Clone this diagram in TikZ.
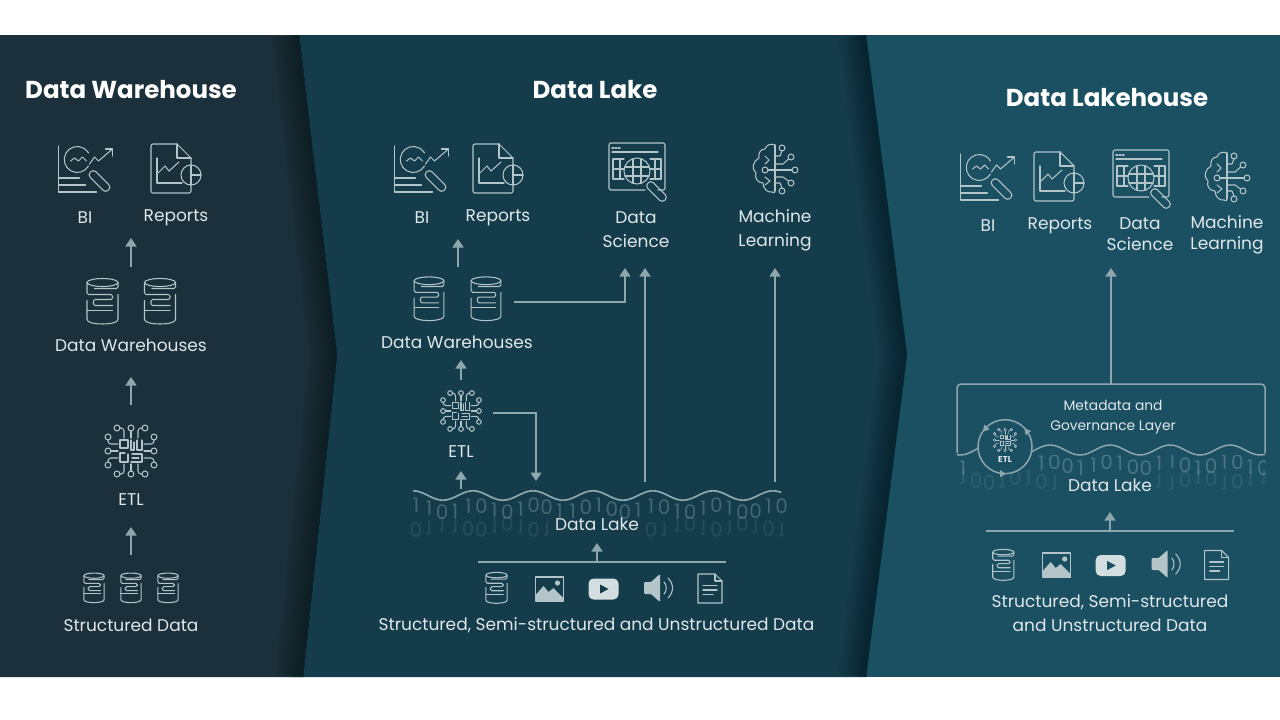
\documentclass[tikz,border=0pt]{standalone}
\usepackage{fontspec}
\usepackage{graphicx}
\setmainfont{Poppins}
\usetikzlibrary{arrows.meta}
\definecolor{leftc}{HTML}{1B303A}
\definecolor{midc}{HTML}{153C4A}
\definecolor{rightc}{HTML}{1B5062}
\definecolor{iconc}{HTML}{B4C5CA}
\definecolor{ytc}{HTML}{D3DEE1}
\definecolor{arrowc}{HTML}{8DA7AD}
\definecolor{labelc}{HTML}{DFE7EA}
\definecolor{digitc}{HTML}{A9C3CB}
\colorlet{panelc}{midc}
\def\iconlw{1.05pt}
\newcommand\lbl{\fontsize{17}{21}\selectfont}
\newcommand\ttl{\fontsize{24.5}{29}\selectfont\bfseries}
\newcommand\binrow[8]{% name,x0,dx,ybase,amp,crest,opacity,list
  \foreach \c [count=\i] in {#8} {
    \pgfmathsetmacro\bx{#2+#3*(\i-1)}
    \pgfmathsetmacro\by{#4-#5*cos(6*(\bx-#6))}
    \node[digit,opacity=#7] (#1\i) at (\bx,\by) {\c};
  }
}
\newcommand\binrowflip[8]{%
  \foreach \c [count=\i] in {#8} {
    \pgfmathsetmacro\bx{#2+#3*(\i-1)}
    \pgfmathsetmacro\by{#4+#5*cos(6*(\bx-#6))}
    \node[digit,opacity=#7] (#1\i) at (\bx,\by) {\scalebox{1}[-1]{\c}};
  }
}
\tikzset{
  icon/.style={draw=iconc,line width=\iconlw,line cap=round,line join=round},
  arr/.style={draw=arrowc,line width=1.7pt,-{Triangle[length=8.5pt,width=11pt]}},
  plain/.style={draw=arrowc,line width=1.7pt},
  lab/.style={text=labelc,font=\lbl,inner sep=0pt,align=center},
  title/.style={text=white,font=\ttl,inner sep=0pt},
  digit/.style={text=digitc,inner sep=0pt,font=\fontsize{20}{20}\selectfont},
  biicon/.pic={
    \draw[icon] (-27,-23)--(-27,23)--(11,23);
    \draw[icon] (-27,9)--(-6,9);
    \draw[icon] (-27,16)--(0,16);
    \draw[icon] (3,-3) arc (30:330:13);
    \draw[icon] (-15,-8)--(-11,-11)--(-7,-8)--(-3,-12)--(1,-8);
    \draw[icon] (4,-5)--(9,-12)--(13,-8)--(27,-20);
    \draw[icon] (20,-20)--(27,-20)--(27,-13);
    \draw[icon,rounded corners=3.5pt] (7.8,.2)--(25.8,18.2)--(20.2,23.8)--(2.2,5.8)--cycle;
  },
  repicon/.pic={
    \draw[icon,rounded corners=2pt] (1,-25)--(-25,-25)--(-25,24)--(15,24)--(15,16);
    \draw[icon] (1,-25)--(15,-11)--(15,-4);
    \draw[icon] (1,-25)--(1,-11)--(15,-11);
    \draw[icon] (-19,-11)--(-19,14)--(6,14);
    \draw[icon] (-18,4)--(-11,-3)--(-7,2)--(3,-7);
    \draw[icon] (15,6) circle (10);
    \draw[icon] (15,-4)--(15,6)--(25,6);
    \draw[icon] (15,6)--(15,16);
  },
  dsicon/.pic={
    \draw[icon,rounded corners=2pt] (8,20)--(-28,20)--(-28,-27)--(28,-27)--(28,20)--(21,20);
    \draw[icon] (-25,-18)--(21,-18);
    \draw[icon,line width=1.4pt,dash pattern=on 1.6pt off 1.6pt] (-25,-22)--(-17,-22);
    \foreach \yy in {-11,-1,9} {
      \draw[icon] (-24,\yy)--(-13,\yy);
      \draw[icon] (13,\yy)--(24,\yy);
    }
    \draw[icon] (-24,-11)--(-24,9);
    \draw[icon] (-17,-11)--(-17,9);
    \draw[icon] (24,-11)--(24,9);
    \draw[icon] (18,-11)--(18,9);
    \draw[icon] (0,1) circle (13);
    \draw[icon] (-4,-11)--(-4,13);
    \draw[icon] (4,-11)--(4,13);
    \draw[icon] (-12,-3)--(12,-3);
    \draw[icon] (-12,6)--(12,6);
    \draw[icon,rounded corners=3.5pt] (13.8,10.2)--(30.8,27.2)--(25.2,32.8)--(8.2,15.8)--cycle;
  },
  brainicon/.pic={
    \draw[icon] (0,-24) .. controls (-4,-26) and (-9,-24) .. (-10,-20)
      .. controls (-15,-20) and (-17,-15) .. (-16,-11)
      .. controls (-22,-8) and (-24,0) .. (-19,4)
      .. controls (-21,9) and (-17,14) .. (-12,14)
      .. controls (-12,20) and (-7,24) .. (-3,23)
      .. controls (-1,24) and (0,24) .. (0,22);
    \draw[icon] (0,-24)--(0,22);
    \draw[icon] (-10,-13)--(-6,-9)--(-10,-5);
    \draw[icon] (-10,1) circle (3);
    \draw[icon] (-7,1)--(17,1);
    \draw[icon] (20,1) circle (3);
    \draw[icon] (-10,8)--(-5,12)--(-10,16);
    \draw[icon] (0,-13)--(5,-13)--(7,-18);
    \draw[icon] (7,-21) circle (3);
    \draw[icon] (0,-5)--(8,-5)--(13.5,-10);
    \draw[icon] (16,-12) circle (3);
    \draw[icon] (0,8)--(8,8)--(13.5,12);
    \draw[icon] (16,14) circle (3);
    \draw[icon] (0,14)--(5,14)--(7,19);
    \draw[icon] (7,22) circle (3);
  },
  dbicon/.pic={
    \draw[icon] (0,-19) ellipse [x radius=15.5,y radius=4];
    \draw[icon,rounded corners=1.5pt] (15.5,-19)--(15.5,-13)--(-8,-13);
    \draw[icon,rounded corners=1.5pt] (-15.5,-19)--(-15.5,-7)--(10,-7)--(10,-2)--(-9,-2)--(-9,4)--(10,4);
    \draw[icon] (15.5,-7)--(15.5,18) .. controls (15.5,24) and (-15.5,24) .. (-15.5,18)--(-15.5,-1);
    \draw[icon] (-15.5,9)--(10,9);
  },
  chipicon/.pic={
    \foreach \r in {0,90,180,270} {
      \begin{scope}[rotate=\r]
        \draw[icon] (0,-23) circle (3);
        \draw[icon] (0,-20)--(0,-13);
        \draw[icon] (-14,-23) circle (3);
        \draw[icon,rounded corners=3pt] (-11,-23)--(-7,-23)--(-7,-13);
        \draw[icon] (14,-23) circle (3);
        \draw[icon,rounded corners=3pt] (11,-23)--(7,-23)--(7,-13);
      \end{scope}
    }
    \draw[icon] (-11,-11) rectangle (-3,-3);
    \draw[icon] (0,-11)--(0,-1)--(3,-1)--(3,-9);
    \draw[icon] (6,-11)--(6,-1)--(11,-1)--(11,-11);
    \draw[icon] (-11,2)--(-11,11)--(-3,11)--(-3,3);
    \draw[icon] (-11,2)--(-6,2);
    \draw[icon] (1,3)--(11,3)--(11,11)--(0,11);
    \draw[icon] (1,7)--(8,7);
  },
  imgicon/.pic={
    \draw[icon,draw=iconc] (-14,-12) rectangle (14,12);
    \fill[iconc] (-14,12)--(-14,6)--(-6,-3)--(-1,3)--(4,-1)--(14,9)--(14,12)--cycle;
    \fill[iconc] (8,-6) circle (2.6);
  },
  yticon/.pic={
    \fill[ytc,rounded corners=5pt] (-15,-10.5) rectangle (15,10.5);
    \fill[panelc] (-3.5,-4.5)--(5,0)--(-3.5,4.5)--cycle;
  },
  spkicon/.pic={
    \fill[iconc,rounded corners=1pt] (-15,-6)--(-8,-6)--(1,-14)--(1,14)--(-8,6)--(-15,6)--cycle;
    \draw[icon] (5,-6) .. controls (8,-3) and (8,3) .. (5,6);
    \draw[icon] (9,-10) .. controls (15,-4) and (15,4) .. (9,10);
  },
  docicon/.pic={
    \draw[icon] (5,-14.5)--(-12,-14.5)--(-12,14.5)--(12,14.5)--(12,-7.5)--cycle;
    \draw[icon] (5,-14.5)--(5,-7.5)--(12,-7.5);
    \draw[icon] (-7,-3)--(7,-3);
    \draw[icon] (-7,1.5)--(7,1.5);
    \draw[icon] (-7,6)--(3,6);
  },
}
\begin{document}
\begin{tikzpicture}[x=1pt,y=-1pt]
\useasboundingbox (0,0) rectangle (1280,720);
\fill[white] (0,0) rectangle (1280,720);
% panels
\fill[rightc] (860,35) rectangle (1280,677);
\fill[midc] (290,35)--(866,35)--(907,355)--(866,677)--(290,677)--cycle;
\begin{scope}
  \clip (290,35)--(866,35)--(907,355)--(866,677)--(290,677)--cycle;
  \foreach \w in {4,8,...,56} {
    \draw[black,opacity=.022,line width=\w pt] (866,35)--(907,355)--(866,677);
  }
\end{scope}
\fill[leftc] (0,35)--(299,35)--(337,355)--(303,677)--(0,677)--cycle;
\begin{scope}
  \clip (0,35)--(299,35)--(337,355)--(303,677)--(0,677)--cycle;
  \foreach \w in {4,8,...,56} {
    \draw[black,opacity=.022,line width=\w pt] (299,35)--(337,355)--(303,677);
  }
\end{scope}

% ---------- Data Warehouse ----------
\node[title] (wt) at (131,90) {Data Warehouse};
\pic (wbi) at (85.5,169) {biicon};
\pic (wrep) at (176,169) {repicon};
\node[lab] (wbil) at (85,218) {BI};
\node[lab] (wrepl) at (176,218) {Reports};
\pic (wdb1) at (102.5,301.5) {dbicon};
\pic (wdb2) at (160,301.5) {dbicon};
\node[lab] (wdwl) at (131,345) {Data Warehouses};
\pic (wetl) at (131,451) {chipicon};
\node[lab] (wetll) at (131,500) {ETL};
\pic[scale=.65] (wsd1) at (94,588) {dbicon};
\pic[scale=.65] (wsd2) at (131,588) {dbicon};
\pic[scale=.65] (wsd3) at (168,588) {dbicon};
\node[lab] (wsdl) at (131,625) {Structured Data};
\coordinate (wa1) at (131,267); \coordinate (wa2) at (131,238);
\coordinate (wb1) at (131,405); \coordinate (wb2) at (131,377);
\coordinate (wc1) at (131,555); \coordinate (wc2) at (131,527);
\draw[arr] (wa1)--(wa2);
\draw[arr] (wb1)--(wb2);
\draw[arr] (wc1)--(wc2);

% ---------- Data Lake ----------
\colorlet{panelc}{midc}
\node[title] (lt) at (595,90) {Data Lake};
\pic (lbi) at (421.5,169) {biicon};
\pic (lrep) at (498,169) {repicon};
\pic (lds) at (637,170) {dsicon};
\pic (lml) at (775,169) {brainicon};
\node[lab] (lbil) at (422,218) {BI};
\node[lab] (lrepl) at (498,218) {Reports};
\node[lab] (ldsl) at (636,230) {Data\\[3pt]Science};
\node[lab] (lmll) at (775,230) {Machine\\[3pt]Learning};
\pic[scale=.96] (ldb1) at (429,299) {dbicon};
\pic[scale=.96] (ldb2) at (486,299) {dbicon};
\node[lab] (ldwl) at (457,342) {Data Warehouses};
\pic[scale=.78] (letl) at (461,411) {chipicon};
\node[lab] (letll) at (461,452) {ETL};
\binrow{lu}{416}{13.06}{509}{3.5}{416}{.32}{1,1,0,1,1,0,1,0,1,0,0,1,1,0,1,0,0,1,1,0,1,0,1,0,1,0,0,1,0}
\binrowflip{ld}{416}{13.06}{527}{3}{416}{.13}{0,1,1,1,0,0,1,0,1,0,1,,,,,,,,0,1,1,0,1,0,1,0,1,0,1}
\draw[line width=1.7pt,draw=arrowc] plot[domain=413:781,samples=120,smooth] (\x,{495.5-4.7*cos(6*(\x-413))});
\node[lab] (lll) at (597,524) {Data Lake};
\coordinate (lbar1) at (478,562); \coordinate (lbar2) at (726,562);
\draw[plain] (lbar1)--(lbar2);
\pic[scale=.68] (lsd) at (496.5,588) {dbicon};
\pic (limg) at (549.5,589) {imgicon};
\pic (lyt) at (603.5,589) {yticon};
\pic (lsp) at (659,588) {spkicon};
\pic (ldoc) at (710,588.5) {docicon};
\node[lab] (lsl) at (596.5,625) {Structured, Semi-structured and Unstructured Data};
\coordinate (la1) at (458,267); \coordinate (la2) at (458,239);
\coordinate (lb1) at (461,380); \coordinate (lb2) at (461,360);
\coordinate (lc1) at (461,489); \coordinate (lc2) at (461,471);
\coordinate (ld1) at (597,562); \coordinate (ld2) at (597,543);
\coordinate (le1) at (493,413); \coordinate (le2) at (536,413); \coordinate (le3) at (536,481);
\coordinate (lf1) at (514,302); \coordinate (lf2) at (625,302); \coordinate (lf3) at (625,268);
\coordinate (lg1) at (645,482); \coordinate (lg2) at (645,268);
\coordinate (lh1) at (775,482); \coordinate (lh2) at (775,268);
\draw[arr] (la1)--(la2);
\draw[arr] (lb1)--(lb2);
\draw[arr] (lc1)--(lc2);
\draw[arr] (ld1)--(ld2);
\draw[arr] (le1)--(le2)--(le3);
\draw[arr] (lf1)--(lf2)--(lf3);
\draw[arr] (lg1)--(lg2);
\draw[arr] (lh1)--(lh2);

% ---------- Data Lakehouse ----------
\colorlet{panelc}{rightc}
\node[title] (rt) at (1107,98) {Data Lakehouse};
\pic (rbi) at (987.5,177) {biicon};
\pic (rrep) at (1059,177) {repicon};
\pic (rds) at (1141,177) {dsicon};
\pic (rml) at (1227,177) {brainicon};
\node[lab] (rbil) at (988,226) {BI};
\node[lab] (rrepl) at (1060,226) {Reports};
\node[lab] (rdsl) at (1140,234.5) {Data\\[0pt]Science};
\node[lab] (rmll) at (1227,234.5) {Machine\\[0pt]Learning};
\begin{scope}
  \clip (957,455) rectangle (1265,500);
  \binrow{ru}{950}{13.06}{465}{3.5}{1050}{.32}{0,1,,,,,,1,0,0,1,1,0,1,0,0,1,1,0,1,0,1,0,1,0}
  \binrowflip{rd}{950}{13.06}{480}{3}{1050}{.13}{0,1,0,0,1,0,1,0,1,,,,,,,,1,1,0,1,0,1,0,1,1}
\end{scope}
\coordinate (rbx1) at (957,453); \coordinate (rbx2) at (957,384); \coordinate (rbx3) at (1265,384); \coordinate (rbx4) at (1265,453);
\draw[plain,line width=1.5pt,rounded corners=4pt] (rbx1)--(rbx2)--(rbx3)--(rbx4);
\draw[line width=1.5pt,draw=arrowc] plot[domain=957:979,samples=20,smooth] (\x,{450-5*cos(6*(\x-1050))});
\draw[line width=1.5pt,draw=arrowc] plot[domain=1031:1265,samples=80,smooth] (\x,{450-5*cos(6*(\x-1050))});
\fill[rightc] (1005,446.7) circle (27);
\draw[draw=arrowc,line width=1.5pt] (1005,446.7) circle (27);
\coordinate (rca1) at (1001,473.7); \coordinate (rca2) at (1006,473.7);
\coordinate (rcb1) at (1027.5,432); \coordinate (rcb2) at (1024.5,428.5);
\coordinate (rcc1) at (986,428); \coordinate (rcc2) at (983,431.5);
\foreach \p/\q in {rca1/rca2,rcb1/rcb2,rcc1/rcc2} {
  \draw[draw=arrowc,line width=.8pt,-{Triangle[length=6pt,width=7pt]}] (\p)--(\q);
}
\begingroup
\def\iconlw{.5pt}
\pic[scale=.45] (retl) at (1005,440) {chipicon};
\endgroup
\node[text=labelc,inner sep=0pt,font=\fontsize{8.5}{10}\selectfont\bfseries] (retll) at (1005,459.5) {ETL};
\node[lab,font=\fontsize{13.8}{17}\selectfont] (rmeta) at (1113,417) {Metadata and\\[3pt]Governance Layer};
\node[lab] (rll) at (1110,485) {Data Lake};
\coordinate (rbar1) at (986,531); \coordinate (rbar2) at (1234,531);
\draw[plain] (rbar1)--(rbar2);
\pic[scale=.68] (rsd) at (1003.3,565) {dbicon};
\pic (rimg) at (1056.7,565) {imgicon};
\pic (ryt) at (1110.7,565.5) {yticon};
\pic (rsp) at (1166.7,564) {spkicon};
\pic (rdoc) at (1216.7,565) {docicon};
\node[lab] (rsl) at (1110,613.5) {Structured, Semi-structured\\[3pt]and Unstructured Data};
\coordinate (ra1) at (1111,384); \coordinate (ra2) at (1111,268);
\coordinate (rb1) at (1110,531); \coordinate (rb2) at (1110,512);
\draw[arr] (ra1)--(ra2);
\draw[arr] (rb1)--(rb2);
\end{tikzpicture}
\end{document}
